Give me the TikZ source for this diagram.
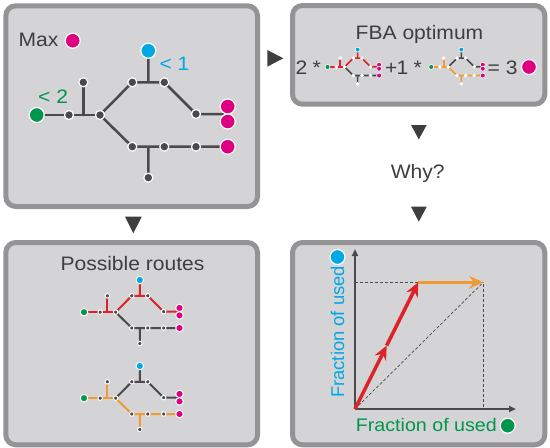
\documentclass[tikz,border=0pt]{standalone}
\usepackage{fontspec}
\setmainfont{Liberation Sans}
\newfontfamily\widefont[FakeStretch=1.08]{Liberation Sans}
\usetikzlibrary{arrows.meta}
\definecolor{panelfill}{RGB}{212,212,214}
\definecolor{panelborder}{RGB}{148,148,150}
\definecolor{ink}{RGB}{62,62,64}
\definecolor{netgray}{RGB}{74,74,76}
\definecolor{mgreen}{RGB}{0,150,78}
\definecolor{mblue}{RGB}{0,168,228}
\definecolor{mmag}{RGB}{222,0,128}
\definecolor{mred}{RGB}{222,35,40}
\definecolor{morange}{RGB}{240,155,50}
\tikzset{
  panel/.style={draw=panelborder, fill=panelfill, line width=5pt, rounded corners=10pt},
  tri/.style={fill=ink, draw=none},
  lbl/.style={font=\widefont\fontsize{19.5}{24}\selectfont, text=ink, inner sep=0pt},
  axlbl/.style={font=\widefont\fontsize{18.2}{22}\selectfont, inner sep=0pt},
  vaxlbl/.style={font=\fontsize{18.4}{22}\selectfont, inner sep=0pt},
  edge/.style={line cap=round, line join=round},
  sdot/.style={circle, inner sep=0pt, draw=white, fill=\sdotfill, line width=\dotring},
  bdot/.style={circle, inner sep=0pt, draw=white, line width=\dotring},
  axis/.style={draw=netgray, line width=2pt, -{Triangle[length=7pt,width=6pt]}},
  guide/.style={draw=netgray, line width=0.7pt, dash pattern=on 3pt off 2pt},
  flux/.style={line width=3.5pt, -{Stealth[length=14pt,width=12.5pt]}},
}
\def\sdotfill{netgray}
\def\dotring{1.2pt}
% #1 prefix, #2 #3 shift, #4 scale, #5 common colour, #6 top colour, #7 bottom colour, #8 line width, #9 dot scale
\newcommand{\netw}[9]{%
  \begin{scope}[shift={(#2,#3)}, scale=#4]
    \coordinate (#1G) at (36.7,115);
    \coordinate (#1A) at (69,115);
    \coordinate (#1Ja) at (83.3,115);
    \coordinate (#1T) at (83.3,82.3);
    \coordinate (#1B) at (100,115);
    \coordinate (#1C) at (132.3,82.3);
    \coordinate (#1Jb) at (148.3,82.3);
    \coordinate (#1U) at (148.3,50.7);
    \coordinate (#1D) at (164.3,82.3);
    \coordinate (#1E) at (196,114);
    \coordinate (#1Mm) at (227.7,114);
    \coordinate (#1Ma) at (227.7,106.5);
    \coordinate (#1Mb) at (227.7,121.5);
    \coordinate (#1F) at (132.3,146.7);
    \coordinate (#1Jc) at (148.3,146.7);
    \coordinate (#1H) at (164.3,146.7);
    \coordinate (#1I) at (196,146.7);
    \coordinate (#1Mc) at (227.7,146.7);
    \coordinate (#1K) at (148.3,177.7);
  \end{scope}
  \draw[edge, draw=#7, line width=#8] (#1B) -- (#1F) -- (#1Jc) -- (#1H) -- (#1I) -- (#1Mc) (#1Jc) -- (#1K);
  \draw[edge, draw=#6, line width=#8] (#1B) -- (#1C) -- (#1Jb) -- (#1D) -- (#1E) -- (#1Mm) (#1Jb) -- (#1U);
  \draw[edge, draw=#5, line width=#8] (#1G) -- (#1A) -- (#1Ja) -- (#1B) (#1Ja) -- (#1T);
  \foreach \n in {A,T,B,C,D,E,F,H,I,K}
    \node[sdot, minimum size={9pt*#9}] (#1n\n) at (#1\n) {};
  \node[bdot, fill=mgreen, minimum size={15pt*#9}] (#1nG) at (#1G) {};
  \node[bdot, fill=mblue, minimum size={15pt*#9}] (#1nU) at (#1U) {};
  \node[bdot, fill=mmag, minimum size={15pt*#9}] (#1nMa) at (#1Ma) {};
  \node[bdot, fill=mmag, minimum size={15pt*#9}] (#1nMb) at (#1Mb) {};
  \node[bdot, fill=mmag, minimum size={15pt*#9}] (#1nMc) at (#1Mc) {};
}
\begin{document}
\begin{tikzpicture}[x=1pt, y=-1pt]
\useasboundingbox (0,0) rectangle (550,448);
\fill[white] (0,0) rectangle (550,448);

% panels
\draw[panel] (5.8,5.8) rectangle (257.5,206.5);
\draw[panel] (292.5,5.5) rectangle (544.8,104.2);
\draw[panel] (5.8,242.5) rectangle (257.5,444.8);
\draw[panel] (292.5,242.5) rectangle (544.8,444.8);

% flow triangles
\fill[tri] (267.3,50) -- (267.3,66.7) -- (283.3,58.3) -- cycle;
\fill[tri] (125,216.7) -- (141.7,216.7) -- (133.3,233.3) -- cycle;
\fill[tri] (411,125) -- (426.7,125) -- (418.8,139.3) -- cycle;
\fill[tri] (411,206.7) -- (426.7,206.7) -- (418.8,221.7) -- cycle;

% top-left panel
\node[lbl, anchor=base west] (max) at (18.5,46) {Max};
\node[bdot, fill=mmag, minimum size=15pt] (maxdot) at (72.7,40.7) {};
\netw{m}{0}{0}{1}{netgray}{netgray}{netgray}{2.5pt}{1}
\node[lbl, anchor=base west, text=mgreen] (lt2) at (38,103.3) {< 2};
\node[lbl, anchor=base west, text=mblue] (lt1) at (159.3,70) {< 1};

% top-right panel
\node[lbl, anchor=base] (fba) at (419.5,39.5) {FBA optimum};
\node[lbl, anchor=base west] (two) at (295.5,74) {2};
\node[lbl, anchor=base west] (star1) at (312.5,74) {*};
\node[lbl, anchor=base west] (plus) at (385,74) {+};
\node[lbl, anchor=base west] (one) at (396.5,74) {1};
\node[lbl, anchor=base west] (star2) at (413.5,74) {*};
\node[lbl, anchor=base west] (eq) at (487.5,74) {= 3};
\node[bdot, fill=mmag, minimum size=15pt] (eqdot) at (529,67) {};
\def\sdotfill{white}
\def\dotring{0.6pt}
\netw{r}{317.6}{35.92}{0.27}{mred}{mred}{netgray}{1.6pt}{0.33}
\netw{o}{421.3}{35.92}{0.27}{morange}{netgray}{morange}{1.6pt}{0.33}

% bottom-left panel
\node[lbl, anchor=base] (routes) at (132.5,270) {Possible routes};
\def\sdotfill{netgray}
\def\dotring{1pt}
\netw{p}{65.65}{254.65}{0.5}{mred}{mred}{netgray}{2pt}{0.5}
\netw{q}{65.65}{340.65}{0.5}{morange}{netgray}{morange}{2pt}{0.5}

% why
\node[lbl, anchor=base] (why) at (417.7,178.3) {Why?};

% bottom-right panel
\coordinate (O) at (355,409);
\coordinate (Yt) at (355,249);
\coordinate (Xe) at (516,409);
\coordinate (P) at (483.3,282.3);
\coordinate (Q) at (355,282.3);
\coordinate (R) at (483.3,409);
\coordinate (Mid) at (386.7,345.5);
\coordinate (S) at (418.3,282.3);
\draw[guide] (Q) -- (P) -- (R);
\draw[guide] (O) -- (P);
\draw[axis] (O) -- (Yt);
\draw[axis] (O) -- (Xe);
\draw[flux, draw=mred, fill=mred] (O) -- (Mid);
\draw[flux, draw=mred, fill=mred] (Mid) -- (S);
\draw[flux, draw=morange, fill=morange] (S) -- (P);
\def\dotring{1.2pt}
\node[axlbl, anchor=base west, text=mgreen] (xlab) at (355.7,431.7) {Fraction of used};
\node[bdot, fill=mgreen, minimum size=15pt] (xdot) at (507.7,425.7) {};
\node[vaxlbl, anchor=base west, text=mblue, rotate=90] (ylab) at (344,398) {Fraction of used};
\node[bdot, fill=mblue, minimum size=15pt] (ydot) at (337.5,257) {};
\end{tikzpicture}
\end{document}
